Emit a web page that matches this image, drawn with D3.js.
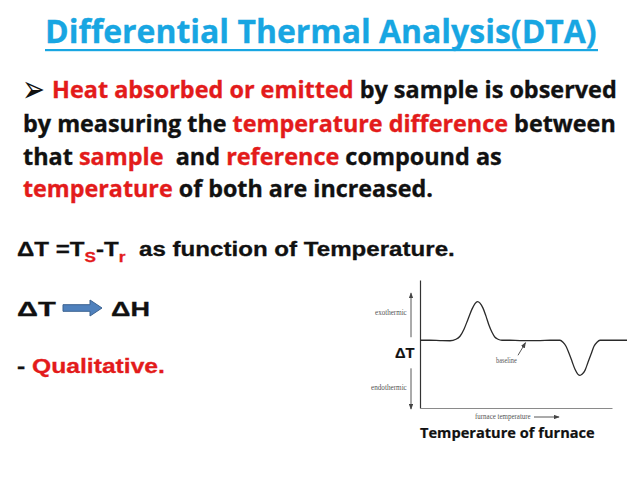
<!DOCTYPE html>
<html>
<head>
<meta charset="utf-8">
<script src="https://cdn.jsdelivr.net/npm/d3@7"></script>
<style>
  body { margin: 0; background: #fff; }
  svg { display: block; }
  text { white-space: pre; }
</style>
</head>
<body>
<svg id="slide" width="638" height="479"></svg>
<script>
// DTA trace (arbitrary units)
var furnaceTemp = [0, 10, 20, 30, 36, 40, 44, 48, 52, 55, 57.5, 60, 63, 66, 69, 72, 75, 78, 82, 90,
  100, 120, 130, 140, 143, 146, 149, 152, 155, 158, 160, 162, 165, 168, 171, 174, 177, 180, 195, 207];
var deltaT = [0, 0, -0.3, -0.5, 1, 4, 11, 21, 31, 36.5, 38.5, 37, 32, 24, 15, 8, 3, 1, 0, 0,
  -0.3, -0.3, 0, 0, -2, -6, -13, -21, -29, -34, -35, -34, -30, -22, -14, -6, -2, 0, 0, 0];

// slide text
var titleText = 'Differential Thermal Analysis(DTA)';
var RED = '#e31b1b', BLACK = '#111', BLUE = '#18a6e2';
var bulletLines = [
  [['Heat absorbed or emitted', RED], [' by sample is observed', BLACK]],
  [['by measuring the ', BLACK], ['temperature difference', RED], [' between', BLACK]],
  [['that ', BLACK], ['sample', RED], ['  and ', BLACK], ['reference', RED], [' compound as', BLACK]],
  [['temperature', RED], [' of both are increased.', BLACK]]
];

var svg = d3.select('#slide');
var CAL = '"Open Sans", "Noto Sans", sans-serif';
var ARIAL = '"Liberation Sans", Arial, sans-serif';
var SERIF = '"Liberation Serif", "DejaVu Serif", serif';

// writes a line of (text, colour) pieces and squeezes it to run from x0 to x1
function fitLine(segs, x0, x1, base, size, family, weight, thick) {
  var t = svg.append('text')
    .attr('font-family', family)
    .attr('font-size', size)
    .attr('font-weight', weight || 'bold');
  segs.forEach(function(s) {
    var ts = t.append('tspan').attr('fill', s[1]).text(s[0]);
    if (thick) ts.attr('stroke', s[1]).attr('stroke-width', thick);
    if (s[2]) ts.attr('font-size', s[2]);
    if (s[3]) ts.attr('dy', s[3]);
  });
  var w = t.node().getBBox().width;
  t.attr('transform', 'translate(' + x0 + ',' + base + ') scale(' + ((x1 - x0) / w) + ',1)');
  return t;
}

// title + underline
fitLine([[titleText, BLUE]], 45, 597, 43, 32, CAL, 'bold', 0.3);
svg.append('rect').attr('x', 45).attr('y', 49).attr('width', 553).attr('height', 2.2).attr('fill', BLUE);

// bullet
fitLine([['\u27A2', BLACK]], 22, 45, 102, 38, '"DejaVu Sans", sans-serif', 'normal');

var lineSpans = [[52, 617, 98], [23, 616, 132], [23, 502, 165], [23, 433, 197]];
bulletLines.forEach(function(segs, i) {
  fitLine(segs, lineSpans[i][0], lineSpans[i][1], lineSpans[i][2], 23, CAL, 'bold', 0.35);
});

// formula lines
fitLine([['\u0394T =T', BLACK], ['S', RED, 15, 6], ['-T', BLACK, 21, -6], ['r', RED, 15, 6],
  ['  as function of Temperature.', BLACK, 21, -6]], 17, 455, 256, 21, ARIAL, 'bold', 0.3);
fitLine([['\u0394T', BLACK]], 17, 56, 316, 21, ARIAL, 'bold', 0.3);
fitLine([['\u0394H', BLACK]], 111, 150, 316, 21, ARIAL, 'bold', 0.3);
fitLine([['- ', BLACK], ['Qualitative.', RED]], 17, 165, 373, 21, ARIAL, 'bold', 0.3);

// block arrow  dT -> dH
var ba = { x0: 63, x1: 102, xh: 90, cy: 308, shaft: 3.3, head: 8 };
svg.append('path')
  .attr('d', 'M' + ba.x0 + ',' + (ba.cy - ba.shaft) + 'H' + ba.xh + 'V' + (ba.cy - ba.head) +
    'L' + ba.x1 + ',' + ba.cy + 'L' + ba.xh + ',' + (ba.cy + ba.head) + 'V' + (ba.cy + ba.shaft) +
    'H' + ba.x0 + 'Z')
  .attr('fill', '#4f81bd').attr('stroke', '#3b6290').attr('stroke-width', 1);

// ---- DTA chart ----
var x = d3.scaleLinear().domain([0, 192]).range([420, 612]);
var y = d3.scaleLinear().domain([-67.5, 60]).range([408, 280]);

var defs = svg.append('defs');
defs.append('marker').attr('id', 'head')
  .attr('viewBox', '0 0 8 6').attr('refX', 7).attr('refY', 3)
  .attr('markerWidth', 6).attr('markerHeight', 4.5).attr('markerUnits', 'userSpaceOnUse')
  .attr('orient', 'auto')
  .append('path').attr('d', 'M0,0L8,3L0,6Z').attr('fill', '#444');

var yAxis = svg.append('g').attr('transform', 'translate(' + x(0) + ',0)')
  .call(d3.axisLeft(y).ticks(0).tickSizeOuter(0));
yAxis.select('.domain').attr('stroke', '#333').attr('stroke-width', 1.2);

var xAxis = svg.append('g').attr('transform', 'translate(0,' + y(-67.5) + ')')
  .call(d3.axisBottom(x).ticks(0).tickSizeOuter(0));
xAxis.select('.domain').attr('stroke', '#8a8a8a').attr('stroke-width', 1.2);

// exothermic / endothermic double arrow
var ax = x(-9);
svg.append('line').attr('x1', ax).attr('x2', ax).attr('y1', y(3)).attr('y2', y(47))
  .attr('stroke', '#444').attr('stroke-width', 0.9).attr('marker-end', 'url(#head)');
svg.append('line').attr('x1', ax).attr('x2', ax).attr('y1', y(-28)).attr('y2', y(-68.5))
  .attr('stroke', '#444').attr('stroke-width', 0.9).attr('marker-end', 'url(#head)');

fitLine([['exothermic', '#555']], 375, 407, 315, 8.5, SERIF, 'normal');
fitLine([['endothermic', '#555']], 371, 407, 390, 8.5, SERIF, 'normal');
fitLine([['\u0394T', BLACK]], 395, 415, 358, 14, ARIAL, 'bold', 0.2);

// trace
var trace = furnaceTemp.map(function(t, i) { return { t: t, d: deltaT[i] }; });
svg.append('path').datum(trace)
  .attr('fill', 'none').attr('stroke', '#2a2a2a').attr('stroke-width', 1.3)
  .attr('d', d3.line()
    .x(function(p) { return x(p.t); })
    .y(function(p) { return y(p.d); })
    .curve(d3.curveMonotoneX));

// baseline note
fitLine([['baseline', '#555']], 496, 517, 363, 8.5, SERIF, 'normal');
svg.append('line').attr('x1', x(98)).attr('y1', y(-15)).attr('x2', x(105.5)).attr('y2', y(-2.5))
  .attr('stroke', '#444').attr('stroke-width', 0.9).attr('marker-end', 'url(#head)');

// furnace temperature label with arrow
fitLine([['furnace temperature', '#555']], 475, 531, 419, 8.5, SERIF, 'normal');
svg.append('line').attr('x1', 534).attr('x2', 559).attr('y1', 417).attr('y2', 417)
  .attr('stroke', '#444').attr('stroke-width', 0.9).attr('marker-end', 'url(#head)');

fitLine([['Temperature of furnace', BLACK]], 420, 595, 438, 15, CAL, 'bold', 0.2);
</script>
</body>
</html>
